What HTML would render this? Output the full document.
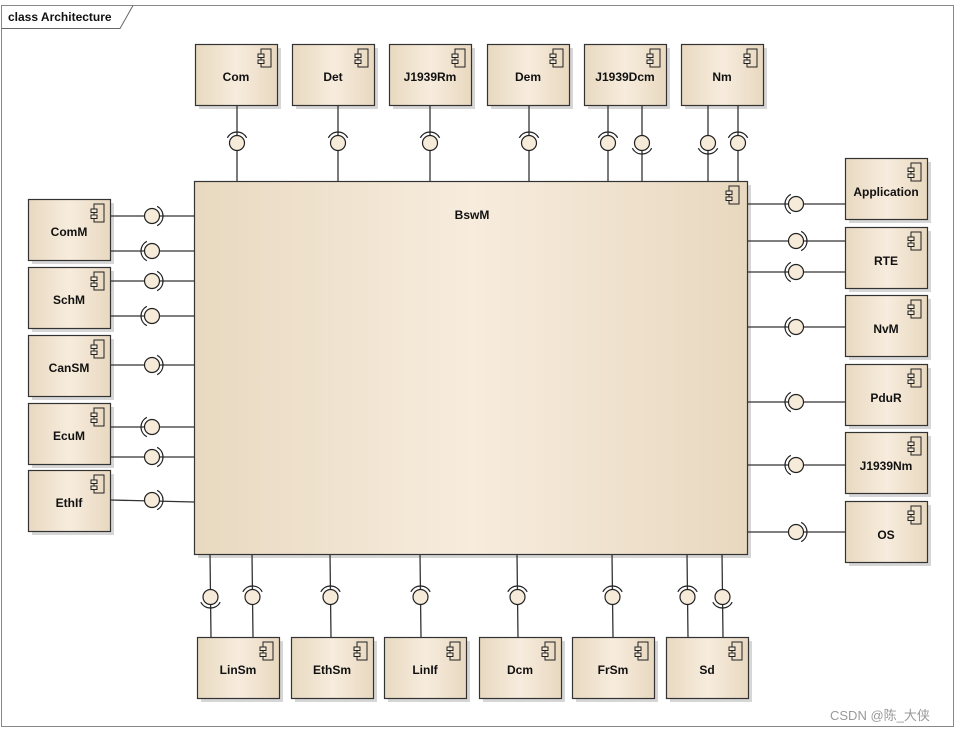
<!DOCTYPE html>
<html><head><meta charset="utf-8"><style>
html,body{margin:0;padding:0;background:#fff;width:962px;height:732px;overflow:hidden}
svg{display:block}
text{font-family:"Liberation Sans",Arial,sans-serif;font-weight:bold;font-size:12px;fill:#111}
</style></head><body>
<svg id="s" width="962" height="732" xmlns="http://www.w3.org/2000/svg">
<defs>
<linearGradient id="g" x1="0" y1="0" x2="1" y2="0">
<stop offset="0" stop-color="#e8d9c0"/><stop offset="0.5" stop-color="#f7ecdd"/><stop offset="1" stop-color="#e8d8bf"/>
</linearGradient>
</defs>
<rect x="1.5" y="5.5" width="952" height="721" fill="#fff" stroke="#888" stroke-width="1"/>
<path d="M1.5 28.5 H120 L133 5.5" fill="none" stroke="#666" stroke-width="1"/>
<text x="8" y="21" style="font-size:12px">class Architecture</text>
<g id="sh"></g>
<g id="main"></g>
<text x="830" y="720" style="font-weight:normal;font-size:13px;fill:#999;font-family:'Liberation Sans','Noto Sans CJK SC',sans-serif">CSDN @陈_大侠</text>
</svg>
<script>
var NS="http://www.w3.org/2000/svg",m=document.getElementById('main'),sh=document.getElementById('sh');
function el(t,a,txt,p){var e=document.createElementNS(NS,t);for(var k in a)e.setAttribute(k,a[k]);if(txt)e.textContent=txt;(p||m).appendChild(e);return e;}
function icon(x,y){
 el('path',{d:'M'+(x+3)+' '+(y+5)+' V'+y+' h10 v18 h-10 v-4 M'+(x+3)+' '+(y+8.5)+' v2.5',fill:'none',stroke:'#222','stroke-width':1});
 el('rect',{x:x,y:y+5,width:6,height:3.5,fill:'#f3e8d6',stroke:'#222','stroke-width':1});
 el('rect',{x:x,y:y+11,width:6,height:3.5,fill:'#f3e8d6',stroke:'#222','stroke-width':1});
}
function comp(x,y,w,h,name,ty){
 el('rect',{x:x+4,y:y+4,width:w,height:h,fill:'#bbb',opacity:0.6},null,sh);
 el('rect',{x:x+.5,y:y+.5,width:w,height:h,fill:'url(#g)',stroke:'#333','stroke-width':1.2});
 icon(x+w-19,y+5);
 el('text',{x:x+w/2,y:ty||y+h/2+3,'text-anchor':'middle'},name);
}
function line(a,b,c,d){el('line',{x1:a,y1:b,x2:c,y2:d,stroke:'#333','stroke-width':1.3});}
function bs(cx,cy,dx,dy){
 var r=11,an=62*Math.PI/180,base=Math.atan2(dy,dx);
 var x1=cx+r*Math.cos(base-an),y1=cy+r*Math.sin(base-an),x2=cx+r*Math.cos(base+an),y2=cy+r*Math.sin(base+an);
 el('path',{d:'M'+x1+' '+y1+' A'+r+' '+r+' 0 0 1 '+x2+' '+y2,fill:'none',stroke:'#222','stroke-width':1.2});
 el('circle',{cx:cx,cy:cy,r:7.5,fill:'#f6ead8',stroke:'#222','stroke-width':1.2});
}
[[237,-1],[338,-1],[430,-1],[529,-1],[608,-1],[642,1],[708,1],[738,-1]].forEach(function(c){line(c[0],105,c[0],181);bs(c[0],143,0,c[1]);});
[[216,1],[251,-1],[281,1],[316,-1],[365,1],[427,-1],[457,1]].forEach(function(c){line(110,c[0],194,c[0]);bs(152,c[0],c[1],0);});
line(110,500,194,502);bs(152,500,1,0);
[[204,-1],[241,1],[272,-1],[327,-1],[402,-1],[465,-1],[532,1]].forEach(function(c){line(747,c[0],845,c[0]);bs(796,c[0],c[1],0);});
[[210,1],[252,-1],[330,-1],[420,-1],[517,-1],[612,-1],[687,-1],[722,1]].forEach(function(c){line(c[0],554,c[0]+1,637);bs(c[0]+.5,597,0,c[1]);});
el('rect',{x:198,y:185,width:553,height:373,fill:'#bbb',opacity:0.6},null,sh);
el('rect',{x:194.5,y:181.5,width:553,height:373,fill:'url(#g)',stroke:'#333','stroke-width':1.2});
icon(726,186);
el('text',{x:472,y:219,'text-anchor':'middle'},'BswM');
[[195,'Com'],[292,'Det'],[389,'J1939Rm'],[487,'Dem'],[584,'J1939Dcm'],[681,'Nm']].forEach(function(c){comp(c[0],44,82,61,c[1],81);});
[[199,'ComM'],[267,'SchM'],[335,'CanSM'],[403,'EcuM'],[470,'EthIf']].forEach(function(c){comp(28,c[0],82,61,c[1],c[0]+37);});
[[158,'Application'],[227,'RTE'],[295,'NvM'],[364,'PduR'],[432,'J1939Nm'],[501,'OS']].forEach(function(c){comp(845,c[0],82,61,c[1],c[0]+38);});
[[197,'LinSm'],[291,'EthSm'],[384,'LinIf'],[479,'Dcm'],[572,'FrSm'],[666,'Sd']].forEach(function(c){comp(c[0],637,82,61,c[1],674);});
</script>
</body></html>
